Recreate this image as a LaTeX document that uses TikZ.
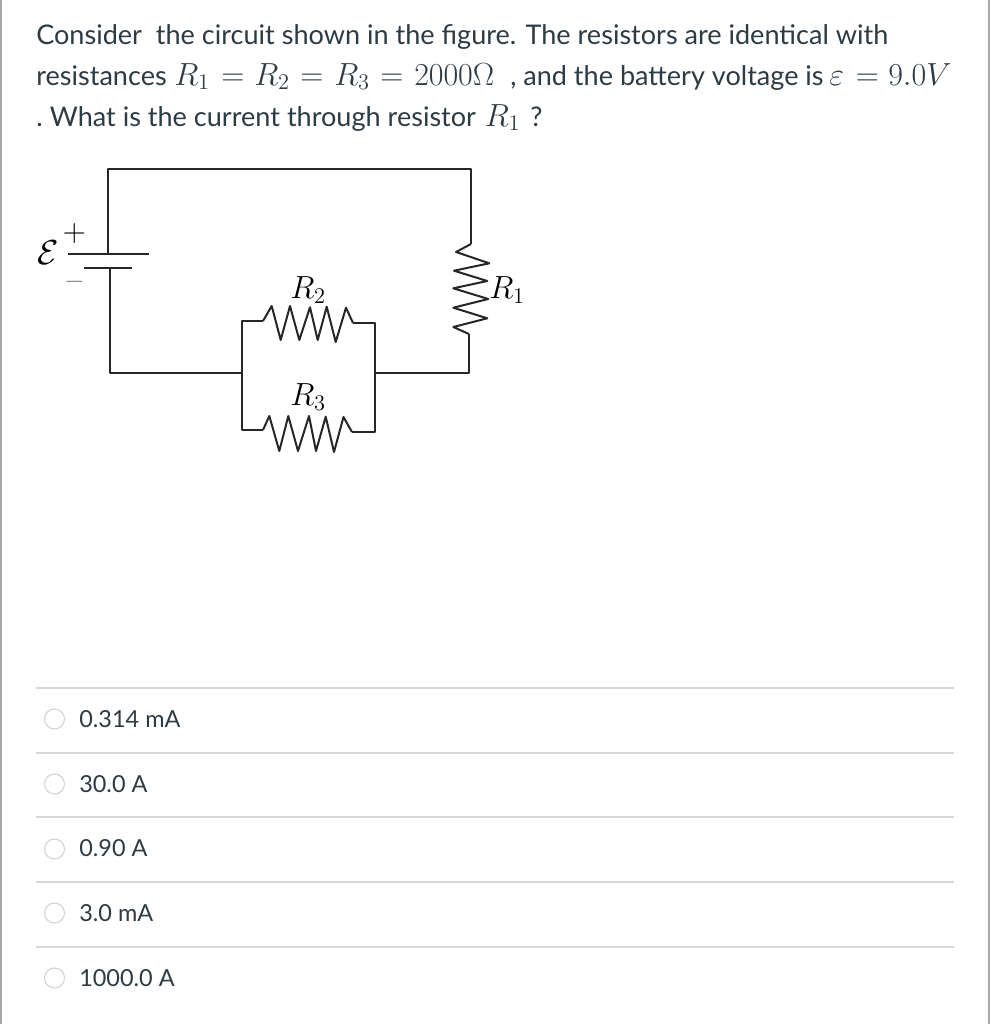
\documentclass[tikz,border=0pt]{standalone}
\usepackage{fix-cm}
\usepackage[no-math]{fontspec}
\setmainfont{Lato}
\usetikzlibrary{positioning}
\definecolor{bordergray}{HTML}{A9A9A9}
\definecolor{rulegray}{HTML}{D4D8DB}
\definecolor{radiogray}{HTML}{D2D2D2}
\definecolor{answerink}{HTML}{2D3B45}
\definecolor{questionink}{HTML}{2D3B45}
\tikzset{
  wire/.style={line width=1.5pt, black!85, line join=round},
  rulerow/.style={line width=0.9pt, rulegray},
  questionline/.style={anchor=base west, inner sep=0pt, font=\fontsize{20.3}{24}\selectfont, text=questionink},
  questionmath/.style={anchor=base west, inner sep=0pt, font=\fontsize{24}{28}\selectfont, text=questionink},
  answerlabel/.style={anchor=base west, inner sep=0pt, font=\fontsize{17.6}{21}\selectfont, text=answerink},
  radio/.style={circle, draw=radiogray, line width=0.8pt, fill=white, minimum size=15pt, inner sep=0pt},
  reslabel/.style={inner sep=0pt, font=\fontsize{24}{28}\selectfont},
  polarity/.style={inner sep=0pt, font=\fontsize{24}{28}\selectfont}
}
\begin{document}
\begin{tikzpicture}[x=0.75pt, y=-0.75pt]
  \useasboundingbox (0, 0) rectangle (998, 1024);

  % Page borders
  \draw[line width=1.5pt, bordergray] (1, 0) -- (1, 1024);
  \draw[line width=1.5pt, bordergray] (989, 0) -- (989, 1024);

  % Question, line 1
  \node[questionline] (line1) at (36, 45) {Consider\ \ the circuit shown in the figure. The resistors are identical with};
  % Question, line 2
  \node[questionline] (line2) at (36, 85) {resistances};
  \node[questionmath] (mathra) at (174, 85) {$R_1$};
  \node[questionmath] (eqa) at (221, 85) {$=$};
  \node[questionmath] (mathrb) at (254, 85) {$R_2$};
  \node[questionmath] (eqb) at (300, 85) {$=$};
  \node[questionmath] (mathrc) at (334, 85) {$R_3$};
  \node[questionmath] (eqc) at (380, 85) {$=$};
  \node[questionmath] (ohms) at (414, 85) {$2000\Omega$};
  \node[questionline] (line2b) at (510, 85) {, and the battery voltage is};
  \node[questionmath] (emfvar) at (829, 85) {$\varepsilon$};
  \node[questionmath] (eqd) at (855.5, 85) {$=$};
  \node[questionmath] (volts) at (888, 85) {$9.0V$};
  % Question, line 3
  \node[questionline] (line3) at (36, 126) {.\hspace{5.4pt}What is the current through resistor};
  \node[questionmath] (mathrd) at (484.5, 126) {$R_1$};
  \node[questionline] (line3b) at (530, 126) {?};

  % Circuit corners
  \coordinate (topleft) at (108, 169);
  \coordinate (topright) at (471, 169);
  \coordinate (posplate) at (108, 254);
  \coordinate (negplate) at (110, 268);
  \coordinate (botleft) at (110, 373);
  \coordinate (jleft) at (242, 373);
  \coordinate (jright) at (375, 373);
  \coordinate (botright) at (469, 373);
  \coordinate (r1top) at (471, 244);
  \coordinate (r1bot) at (469, 334);
  \coordinate (r2left) at (263, 321);
  \coordinate (r2right) at (353, 323);
  \coordinate (r3left) at (263, 430);
  \coordinate (r3right) at (352, 432);

  % Battery
  \draw[wire] (68, 254) -- (149, 254);
  \draw[wire] (84, 268) -- (132, 268);
  \node[polarity] (plus) at (74.5, 233) {$+$};
  \node[inner sep=0pt, font=\fontsize{20}{24}\selectfont, text=black!50] (minus) at (74.5, 282) {$-$};
  \node[inner sep=0pt, font=\fontsize{26}{28}\selectfont] (emf) at (48, 252.5) {$\mathcal{E}$};

  % Wires
  \draw[wire] (posplate) -- (topleft) -- (topright) -- (r1top);
  \draw[wire] (negplate) -- (botleft) -- (jleft);
  \draw[wire] (jright) -- (botright) -- (r1bot);
  \draw[wire] (r2left) -| (jleft);
  \draw[wire] (r3left) -| (jleft);
  \draw[wire] (r2right) -| (jright);
  \draw[wire] (r3right) -| (jright);

  % R1
  \draw[wire] (r1top) -- (456, 252) -- (489.3, 263.3) -- (454, 270.7) -- (487.3, 281) -- (453.3, 288.3)
     -- (488.3, 299) -- (453.3, 307.7) -- (487.3, 318.3) -- (453.3, 327) -- (r1bot);
  \node[reslabel] (labelr1) at (507, 290) {$R_1$};
  % R2
  \draw[wire] (r2left) -- (271.7, 306) -- (280.7, 340) -- (290, 306) -- (299.3, 340) -- (310, 307.3)
     -- (317.7, 340) -- (326.7, 306.7) -- (335.7, 342) -- (346, 307.7) -- (r2right);
  \node[reslabel] (labelr2) at (308, 290) {$R_2$};
  % R3
  \draw[wire] (r3left) -- (269.3, 416) -- (279.3, 451) -- (288.3, 416) -- (298, 451) -- (309, 416)
     -- (316, 451) -- (325.7, 416.7) -- (334, 452) -- (343.5, 417) -- (r3right);
  \node[reslabel] (labelr3) at (308, 397) {$R_3$};

  % Answer rules
  \draw[rulerow] (36, 688) -- (954, 688);
  \draw[rulerow] (36, 753) -- (954, 753);
  \draw[rulerow] (36, 817) -- (954, 817);
  \draw[rulerow] (36, 882) -- (954, 882);
  \draw[rulerow] (36, 947) -- (954, 947);

  % Answers
  \node[radio] (radioa) at (54.5, 719) {};
  \node[answerlabel] (answera) at (79, 727) {0.314 mA};
  \node[radio] (radiob) at (54.5, 784) {};
  \node[answerlabel] (answerb) at (79, 792) {30.0 A};
  \node[radio] (radioc) at (54.5, 849) {};
  \node[answerlabel] (answerc) at (79, 856) {0.90 A};
  \node[radio] (radiod) at (54.5, 913) {};
  \node[answerlabel] (answerd) at (79, 921) {3.0 mA};
  \node[radio] (radioe) at (54.5, 978) {};
  \node[answerlabel] (answere) at (79, 986) {1000.0 A};
\end{tikzpicture}
\end{document}
